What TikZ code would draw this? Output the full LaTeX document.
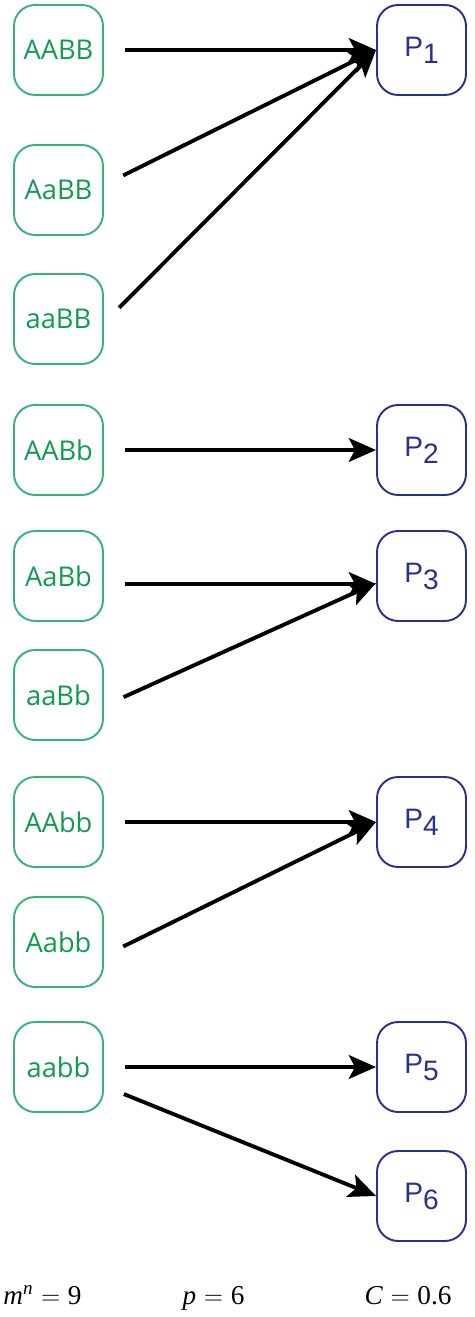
\documentclass[tikz,border=0pt]{standalone}
\usepackage{fontspec}
\setmainfont{Liberation Serif}
\newfontfamily\genofont{Open Sans}
\newfontfamily\phenofont{Liberation Sans}
\usepackage{tikz}
\usetikzlibrary{arrows.meta,calc}
\definecolor{genoline}{RGB}{55,180,115}
\definecolor{genotext}{RGB}{15,155,80}
\definecolor{phenoblue}{RGB}{40,50,140}
\newcommand{\eqsp}{$\hspace{0.28em}=\hspace{0.28em}$}

\begin{document}
\begin{tikzpicture}[x=0.02cm,y=-0.02cm,
  geno/.style={draw=genoline,line width=1.1pt,rounded corners=12pt,minimum width=1.78cm,minimum height=1.8cm,inner sep=0pt,text=genotext,font=\genofont\fontsize{15.5}{18}\selectfont},
  pheno/.style={draw=phenoblue,line width=1.1pt,rounded corners=12pt,minimum width=1.78cm,minimum height=1.8cm,inner sep=0pt,text=phenoblue,font=\phenofont\fontsize{16}{20}\selectfont},
  arr/.style={line width=2.2pt,shorten <=0.43cm,-{Stealth[length=15.5pt,width=13.5pt,inset=3.5pt]}},
  count/.style={font=\fontsize{15.5}{18}\selectfont,anchor=base}]
\useasboundingbox (0,0) rectangle (474,1317);
% ---- genotypes (left column) ----
\foreach \name/\yy in {AABB/50, AaBB/190, aaBB/319, AABb/450, AaBb/576, aaBb/695, AAbb/822, Aabb/942, aabb/1067} {
  \node[geno] (\name) at (58.5,\yy) {\name};}
% ---- phenotypes (right column) ----
\foreach \i/\yy in {1/50, 2/450, 3/576, 4/822, 5/1067, 6/1196} {
  \node[pheno] (P\i) at (421.5,\yy) {P\raisebox{-0.25em}{\i}};}
% ---- genotype -> phenotype ----
\draw[arr] (AABB.east) -- (P1.west);
\draw[arr] ($(AaBB.east)+(0,-5)$) -- (P1.west);
\draw[arr] ($(aaBB.east)+(0,4)$) -- (P1.west);
\draw[arr] (AABb.east) -- (P2.west);
\draw[arr] ($(AaBb.east)+(0,8)$) -- ($(P3.west)+(0,8)$);
\draw[arr] ($(aaBb.east)+(0,11)$) -- ($(P3.west)+(0,7)$);
\draw[arr] (AAbb.east) -- (P4.west);
\draw[arr] ($(Aabb.east)+(0,14)$) -- (P4.west);
\draw[arr] (aabb.east) -- (P5.west);
\draw[arr] ($(aabb.east)+(0,19)$) -- (P6.west);
% ---- counts ----
\node[count] (mn) at (42.5,1304) {\textit{m}\textsuperscript{\textit{n}}\eqsp 9};
\node[count] (pp) at (213.5,1304) {\textit{p}\eqsp 6};
\node[count] (cc) at (408,1304) {\textit{C}\eqsp 0.6};
\end{tikzpicture}
\end{document}
